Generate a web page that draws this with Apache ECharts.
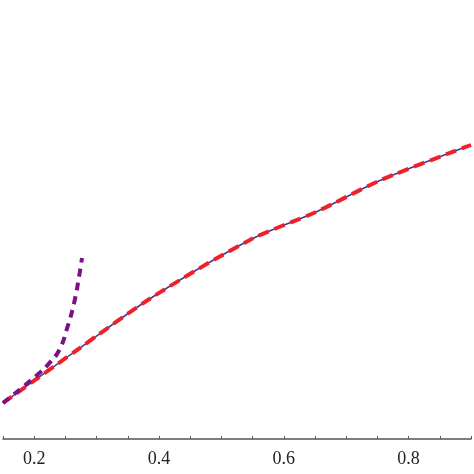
<!DOCTYPE html>
<html>
<head>
<meta charset="utf-8">
<script src="https://cdn.jsdelivr.net/npm/echarts@6/dist/echarts.min.js"></script>
<style>html,body{margin:0;padding:0;background:#fff}#chart{width:474px;height:474px}</style>
</head>
<body>
<div id="chart"></div>
<script>
// curve values (y in arbitrary units above the axis)
var exactX = [0.15, 0.2687, 0.3873, 0.5456, 0.6516, 0.756, 0.90];
var exactY = [36, 89, 141, 199, 227, 259, 294];
var approxX = [0.15, 0.2085, 0.2244, 0.2402, 0.2528, 0.2639, 0.2718, 0.2766];
var approxY = [36, 66, 76, 89, 111, 136, 162, 181];
var tickLabels = ['0.2', '0.4', '0.6', '0.8'];

function pairs(xs, ys) {
    var out = [];
    xs.forEach(function (x, i) { out.push([x, ys[i]]); });
    return out;
}

var myChart = echarts.init(document.getElementById('chart'));
var option = {
    animation: false,
    grid: {left: 0, right: 0, top: 0, bottom: 35},
    xAxis: {
        type: 'value', min: 0.15, max: 0.9, interval: 0.05,
        axisLine: {lineStyle: {color: '#555', width: 1.5}},
        axisTick: {inside: true, length: 3, lineStyle: {color: '#555'}},
        splitLine: {show: false},
        axisLabel: {
            fontFamily: 'Liberation Serif', fontSize: 18, color: '#222', margin: 11,
            formatter: function (v) {
                var s = v.toFixed(1);
                return (Math.abs(v * 10 - Math.round(v * 10)) < 1e-6 && tickLabels.indexOf(s) >= 0) ? s : '';
            }
        }
    },
    yAxis: {type: 'value', min: 0, max: 439, show: false},
    series: [
        {type: 'line', smooth: 0.3, symbol: 'none', data: pairs(exactX, exactY),
            lineStyle: {color: '#3b3b8f', width: 1.5}},
        {type: 'line', smooth: 0.3, symbol: 'none', data: pairs(exactX, exactY),
            lineStyle: {color: '#f0202a', width: 4, type: [11, 6]}},
        {type: 'line', smooth: true, symbol: 'none', data: pairs(approxX, approxY),
            lineStyle: {color: '#7a1286', width: 4, type: [8, 6]}}
    ]
};
myChart.setOption(option);
</script>
</body>
</html>
